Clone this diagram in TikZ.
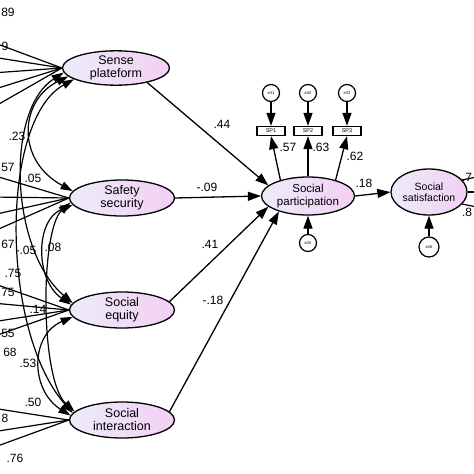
\documentclass[tikz,border=0pt]{standalone}
\usepackage{fontspec}
\setmainfont{Liberation Sans}
\usetikzlibrary{arrows.meta,shapes.geometric}
\definecolor{elL}{HTML}{ECECFA}
\definecolor{elR}{HTML}{F3CFF3}
\begin{document}
\begin{tikzpicture}[x=1pt,y=-1pt,
  lat/.style={ellipse,draw,line width=1.3pt,left color=elL,right color=elR,inner sep=0pt,
    minimum width=105pt,minimum height=36pt,align=center,font=\fontsize{12.5}{13}\selectfont},
  err/.style={circle,draw,line width=1.2pt,fill=white,minimum size=17pt,inner sep=0pt,font=\fontsize{4}{4}\selectfont},
  ind/.style={rectangle,draw,line width=1.3pt,fill=white,minimum width=28pt,minimum height=9pt,inner sep=0pt,font=\fontsize{5.5}{6}\selectfont},
  arr/.style={line width=1.3pt,-{Triangle[length=13pt,width=9pt]}},
  cov/.style={line width=1.2pt,{Triangle[length=12pt,width=8pt]}-{Triangle[length=12pt,width=8pt]}},
  ln/.style={line width=1.2pt},
  lbl/.style={font=\fontsize{12}{12}\selectfont,inner sep=0pt}
]
\useasboundingbox (0,0) rectangle (474,474);
\clip (0,0) rectangle (474,474);
\fill[white] (0,0) rectangle (474,474);

% latent variables
\node[lat,minimum width=107pt,minimum height=34pt] (sp) at (116,68) {Sense\\plateform};
\node[lat] (ss) at (122,198) {Safety\\security};
\node[lat] (se) at (122,310) {Social\\equity};
\node[lat] (si) at (122,420) {Social\\interaction};
\node[lat,minimum width=93pt,minimum height=38pt,font=\fontsize{11.5}{12.5}\selectfont] (par) at (308,196) {Social\\participation};
\node[lat,minimum width=76pt,minimum height=46pt,font=\fontsize{10.5}{11.5}\selectfont] (sat) at (429,192) {Social\\satisfaction};

% indicators and errors
\node[ind] (i1) at (271,131) {SP1};
\node[ind] (i2) at (308,131) {SP2};
\node[ind] (i3) at (347,131) {SP3};
\node[err] (e31) at (271,93) {e31};
\node[err] (e32) at (308,93) {e32};
\node[err] (e33) at (347,93) {e33};
\node[err] (e25) at (308,243) {e25};
\node[err,minimum size=20pt] (e26) at (429,247) {e26};

\draw[arr] (e31) -- (i1);
\draw[arr] (e32) -- (i2);
\draw[arr] (e33) -- (i3);
\draw[arr] (par.150) -- (i1.south);
\draw[arr] (par.north) -- (i2.south);
\draw[arr] (par.30) -- (i3.south);
\draw[arr] (e25) -- (par.south);
\draw[arr] (e26) -- (sat.south);
\draw[arr] (par.east) -- (sat.west);

% structural paths
\draw[arr] (sp.-25) -- (par.165);
\draw[arr] (ss.east) -- (par.west);
\draw[arr] (se.10) -- (par.195);
\draw[arr] (si.10) -- (par.208);

% indicator lines to the left (cut by the frame)
\foreach \y [count=\k] in {42,57,73,90,108} {\coordinate (a\k) at (-8,\y); \draw[ln] (a\k) -- (sp.west);}
\foreach \y [count=\k] in {175,197,215,232} {\coordinate (b\k) at (-8,\y); \draw[ln] (b\k) -- (ss.west);}
\foreach \y [count=\k] in {283,303,322,337} {\coordinate (c\k) at (-8,\y); \draw[ln] (c\k) -- (se.west);}
\foreach \y [count=\k] in {408,432,448} {\coordinate (d\k) at (-8,\y); \draw[ln] (d\k) -- (si.west);}
% indicator lines to the right of satisfaction
\coordinate (r1) at (482,176);
\coordinate (r2) at (482,192);
\coordinate (r3) at (482,208);
\draw[ln] (sat.20) -- (r1);
\draw[ln] (sat.east) -- (r2);
\draw[ln] (sat.-20) -- (r3);

% covariances
\draw[cov] (sp.190) .. controls (20,100) and (15,160) .. (ss.172);
\draw[cov] (sp.185) .. controls (5,110) and (10,250) .. (se.172);
\draw[cov] (sp.195) .. controls (0,120) and (0,330) .. (si.172);
\draw[cov] (ss.188) .. controls (35,220) and (35,280) .. (se.174);
\draw[cov] (ss.185) .. controls (40,230) and (40,380) .. (si.170);
\draw[cov] (se.188) .. controls (30,335) and (30,390) .. (si.175);

% labels
\node[lbl] (t44) at (222,124) {.44};
\node[lbl] (t09) at (207,187) {-.09};
\node[lbl] (t41) at (210,244) {.41};
\node[lbl] (t18b) at (213,300) {-.18};
\node[lbl] (t57) at (288,147) {.57};
\node[lbl] (t63) at (321,147) {.63};
\node[lbl] (t62) at (355,156) {.62};
\node[lbl] (t18) at (364,183) {.18};
\node[lbl] (r7) at (467,177) {.7};
\node[lbl] (r8) at (467,212) {.8};

\node[lbl] (l89) at (8,12) {89};
\node[lbl] (l9) at (5,46) {9};
\node[lbl] (l23) at (17,136) {.23};
\node[lbl] (l57) at (8,167) {57};
\node[lbl] (l05) at (33,178) {.05};
\node[lbl] (l67) at (8,244) {67};
\node[lbl] (lm05) at (26,250) {-.05};
\node[lbl] (l08) at (53,247) {.08};
\node[lbl] (l75a) at (13,273) {.75};
\node[lbl] (l75b) at (8,292) {75};
\node[lbl] (l14) at (38,309) {.14};
\node[lbl] (l55) at (8,333) {55};
\node[lbl] (l68) at (10,352) {68};
\node[lbl] (l53) at (28,363) {.53};
\node[lbl] (l50) at (33,402) {.50};
\node[lbl] (l8) at (5,418) {8};
\node[lbl] (l76) at (15,458) {.76};
\end{tikzpicture}
\end{document}
